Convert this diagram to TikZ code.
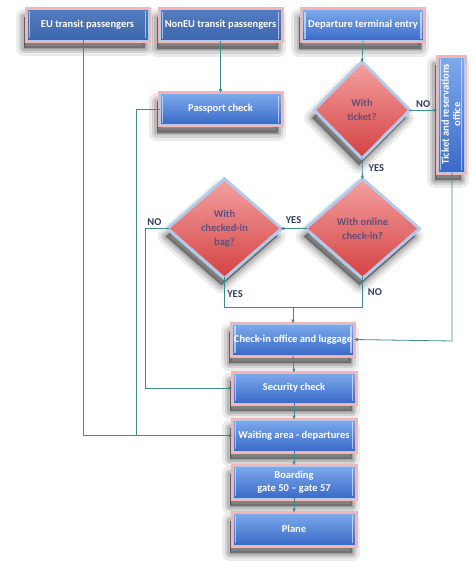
\documentclass[tikz,border=0pt]{standalone}
\usepackage{fontspec}
\setmainfont{Carlito}
\usetikzlibrary{shapes.geometric,arrows.meta,backgrounds}
\definecolor{lnc}{RGB}{60,140,140}
\definecolor{glow}{RGB}{240,130,130}
\definecolor{bglow}{RGB}{140,180,230}
\definecolor{btop}{RGB}{125,170,236}
\definecolor{bbot}{RGB}{58,106,200}
\definecolor{dtop}{RGB}{84,124,192}
\definecolor{dbot}{RGB}{62,102,172}
\definecolor{rtop}{RGB}{244,160,160}
\definecolor{rbot}{RGB}{212,66,66}
\definecolor{dtext}{RGB}{100,78,120}
\definecolor{lbl}{RGB}{50,62,96}
\newcommand\myboxshd[1]{%
  \foreach \lw/\op in {16pt/0.08, 10pt/0.10, 5pt/0.12, 0.1pt/0.14}{%
    \filldraw[black, opacity=\op, line width=\lw, line join=round]
      ([shift={(-3pt,-8pt)}]#1.south west) rectangle ([shift={(-3pt,-8pt)}]#1.north east);}}
\newcommand\mydiashd[1]{%
  \foreach \lw/\op in {16pt/0.08, 10pt/0.10, 5pt/0.12, 0.1pt/0.14}{%
    \filldraw[black, opacity=\op, line width=\lw, line join=round]
      ([shift={(-3pt,-8pt)}]#1.north) -- ([shift={(-3pt,-8pt)}]#1.east) -- ([shift={(-3pt,-8pt)}]#1.south) -- ([shift={(-3pt,-8pt)}]#1.west) -- cycle;}}
\tikzset{
  edgestrips/.style={path picture={
     \draw[white, opacity=0.55, line width=1.2pt]
        ([xshift=2.5pt,yshift=-2pt]path picture bounding box.north west) -- ([xshift=2.5pt,yshift=2pt]path picture bounding box.south west)
        ([xshift=-2.5pt,yshift=-2pt]path picture bounding box.north east) -- ([xshift=-2.5pt,yshift=2pt]path picture bounding box.south east);}},
  boxbase/.style={rectangle, text=white, font=\fontsize{10.5}{13}\selectfont\bfseries, align=center,
     inner sep=1pt, minimum width=121pt, minimum height=31pt,
     preaction={draw=white, line width=5pt},
     preaction={draw=glow, line width=5pt, opacity=0.6},
     draw=bglow!70!white, line width=0.6pt, edgestrips},
  lightbox/.style={boxbase, top color=btop, bottom color=bbot},
  darkbox/.style={boxbase, top color=dtop, bottom color=dbot},
  decis/.style={diamond, inner sep=0pt, text=dtext, font=\fontsize{10.5}{14}\selectfont\bfseries, align=center,
     top color=rtop, bottom color=rbot,
     preaction={draw=white, line width=5pt},
     preaction={draw=bglow, line width=5pt, opacity=0.7},
     draw=bglow!60!white, line width=0.6pt},
  conn/.style={draw=lnc, line width=0.8pt},
  arr/.style={conn, -{Latex[length=4pt,width=3.5pt]}},
  lab/.style={text=lbl, font=\fontsize{10.5}{12}\selectfont\bfseries, inner sep=1pt}
}
\begin{document}
\begin{tikzpicture}[x=1pt,y=1pt]
\useasboundingbox (0,0) rectangle (474,-568);
% nodes
\node[darkbox] (eu) at (87.5,-24.5) {EU transit passengers};
\node[darkbox] (noneu) at (220.5,-25) {NonEU transit passengers};
\node[lightbox] (dep) at (363,-25) {Departure terminal entry};
\node[lightbox] (pass) at (220.5,-109) {Passport check};
\node[decis, minimum width=93pt, minimum height=94pt] (tick) at (362,-110) {With\\ticket?};
\node[boxbase, top color=btop, bottom color=bbot, minimum width=26pt, minimum height=115pt] (office) at (451,-114.5) {};
\node[rotate=90, text=white, font=\fontsize{10.5}{11.5}\selectfont\bfseries, align=center, inner sep=0pt] (officetxt) at (office.center) {Ticket and reservations\\office};
\node[decis, minimum width=111pt, minimum height=97pt] (online) at (362.5,-228.5) {With online\\check-in?};
\node[decis, minimum width=111pt, minimum height=97pt] (bag) at (224.5,-228.5) {With\\checked-in\\bag?};
\node[lightbox] (checkin) at (293,-339.5) {Check-in office and luggage};
\node[lightbox, minimum width=122pt, minimum height=30pt] (sec) at (294,-388) {Security check};
\node[lightbox, minimum width=122pt] (wait) at (294,-435.5) {Waiting area - departures};
\node[lightbox, minimum width=122pt, minimum height=32pt] (board) at (294,-482) {Boarding\\gate 50 -- gate 57};
\node[lightbox, minimum width=122pt, minimum height=32pt] (plane) at (294,-529) {Plane};
% shadows and page background
\begin{scope}[on background layer]
  \fill[white] (0,0) rectangle (474,-568);
  \myboxshd{eu}\myboxshd{noneu}\myboxshd{dep}\myboxshd{pass}\myboxshd{office}
  \myboxshd{checkin}\myboxshd{sec}\myboxshd{wait}\myboxshd{board}\myboxshd{plane}
  \mydiashd{tick}\mydiashd{online}\mydiashd{bag}
\end{scope}
% coordinates
\coordinate (euj) at (83,-435.5);
\coordinate (pj) at (136,-435.5);
\coordinate (bagj) at (145,-228.5);
\coordinate (mj) at (293,-307);
\coordinate (offj) at (452,-341);
% connectors
\draw[conn] (euj |- eu.south) -- (euj);
\draw[arr] (euj) -- (wait.west);
\draw[conn] (pass.west) -| (pj);
\draw[arr] (noneu.south) -- (pass.north);
\draw[arr] (dep.south) -- (tick.north);
\draw[arr] (tick.east) -- (office.west |- tick.east) node[lab, midway, above=1pt] {NO};
\draw[arr] (tick.south) -- (online.north) node[lab, midway, right=5pt] {YES};
\draw[arr] (online.west) -- (bag.east) node[lab, midway, above=4pt] {YES};
\draw[arr] (bag.west) -- (bagj) node[lab, pos=0.6, above=2pt] {NO} |- (sec.west);
\draw[conn] (bag.south) |- (mj -| bag.south) -- (mj -| online.south) -- (online.south);
\node[lab] (yes2) at (235,-294) {YES};
\node[lab] (no2) at (375,-292) {NO};
\draw[arr] (mj) -- (checkin.north);
\draw[arr] (offj |- office.south) -- (offj) -- (checkin.east);
\draw[arr] (checkin.south) -- (sec.north);
\draw[arr] (sec.south) -- (wait.north);
\draw[arr] (wait.south) -- (board.north);
\draw[arr] (board.south) -- (plane.north);
\end{tikzpicture}
\end{document}
